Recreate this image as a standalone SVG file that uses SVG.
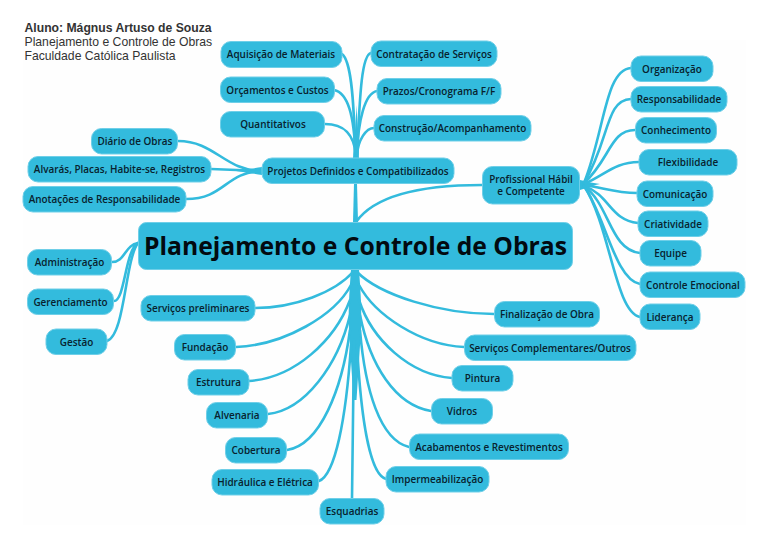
<svg xmlns="http://www.w3.org/2000/svg" width="768" height="543" viewBox="0 0 768 543">
<style>
.n{fill:#33bbdd;stroke:#6fcfe8;stroke-width:1}
.t{font-family:"Open Sans","Noto Sans",sans-serif;font-weight:600;font-size:9.95px;fill:#08222e;text-anchor:middle}
.c{fill:none;stroke:#33bbdd;stroke-width:2.6;stroke-linecap:round}
.h{font-family:"Liberation Sans",Arial,sans-serif;font-size:12.2px;fill:#333}
</style>
<rect width="768" height="543" fill="#fff"/>
<rect x="23" y="40" width="723" height="485" fill="#fefefe"/>
<g id="header">
<text class="h" x="24.500" y="32" font-weight="700">Aluno: Mágnus Artuso de Souza</text>
<text class="h" x="24.500" y="46">Planejamento e Controle de Obras</text>
<text class="h" x="24.500" y="60">Faculdade Católica Paulista</text>
</g>
<g id="connectors">
<path fill="#33bbdd" d="M351,269 L359,269 C360,285 362,305 361,330 L356.500,400 L353.500,400 L349,330 C348,305 350,285 351,269Z"/>
<path fill="#33bbdd" d="M353,222 L358,222 L357,183 L354,183Z"/>
<path fill="#33bbdd" d="M353,158 L359,158 C358,140 357.500,125 356.500,105 C355.500,125 354.500,140 353,158Z"/>
<path fill="#33bbdd" d="M262,167 L262,175 C255,174 245,172 236,171 C245,170 255,168 262,167Z"/>
<path fill="#33bbdd" d="M580,180 L580,190 C588,188 594,185 600,184 C594,183 588,182 580,180Z"/>
<path class="c" d="M342,54 C350,60 354,90 355,155"/>
<path class="c" d="M334,90 C348,93 354,115 355.500,155"/>
<path class="c" d="M325,124 C345,124 354,135 356,155"/>
<path class="c" d="M371,53 C362,55 360,90 357,155"/>
<path class="c" d="M377,91 C365,93 358,120 357,155"/>
<path class="c" d="M374,128 C366,128 358,140 357,155"/>
<path class="c" d="M178,141 C215,141 225,171 262,171"/>
<path class="c" d="M211,169 L262,171"/>
<path class="c" d="M186,199 C225,199 225,172 262,171"/>
<path class="c" d="M482,185 C420,185 375,195 356,222"/>
<path class="c" d="M631,68 C605,70 605,130 584,183"/>
<path class="c" d="M631,99 C605,100 610,140 584,183"/>
<path class="c" d="M635,130 C610,130 610,160 584,183"/>
<path class="c" d="M639,162 C615,162 605,175 584,184"/>
<path class="c" d="M637,193 C615,193 605,188 584,185"/>
<path class="c" d="M638,223 C610,220 610,195 584,186"/>
<path class="c" d="M640,253 C610,250 610,205 584,186"/>
<path class="c" d="M640,284 C615,280 605,215 584,186"/>
<path class="c" d="M640,317 C615,312 610,225 584,186"/>
<path class="c" d="M112,262 C125,262 125,245 138,243"/>
<path class="c" d="M114,301 C125,301 125,250 138,243"/>
<path class="c" d="M107,341 C125,335 125,260 138,243"/>
<path class="c" d="M255,308 C295,308 335,292 353,272"/>
<path class="c" d="M236,347 C285,345 335,315 351,285"/>
<path class="c" d="M249,381 C295,378 335,340 350,300"/>
<path class="c" d="M268,414 C305,410 338,365 350,315"/>
<path class="c" d="M287,450 C320,445 342,390 350,330"/>
<path class="c" d="M319,481 C335,475 346,420 351,345"/>
<path class="c" d="M352,498 L354,340"/>
<path class="c" d="M386,479 C370,475 361,420 357,345"/>
<path class="c" d="M409,447 C380,440 365,390 360,330"/>
<path class="c" d="M431,411 C395,405 370,365 360,315"/>
<path class="c" d="M452,378 C410,375 372,340 359,300"/>
<path class="c" d="M464,347 C420,345 375,315 359,285"/>
<path class="c" d="M494,314 C440,314 380,295 357,272"/>
</g>
<g id="central"><rect class="n" x="138.500" y="222.500" width="434" height="47" rx="8"/><text x="355.500" y="255" font-family="'Open Sans','Noto Sans',sans-serif" font-weight="700" font-size="24.700px" text-anchor="middle" fill="#020a10">Planejamento e Controle de Obras</text></g>
<g id="n1"><rect class="n" x="221" y="41.500" width="121" height="26" rx="10"/><text class="t" x="281" y="58">Aquisição de Materiais</text></g>
<g id="n2"><rect class="n" x="220.500" y="77" width="114" height="25.500" rx="10"/><text class="t" x="277.500" y="93.500">Orçamentos e Custos</text></g>
<g id="n3"><rect class="n" x="220.500" y="111.500" width="104" height="25.500" rx="10"/><text class="t" x="273" y="128">Quantitativos</text></g>
<g id="n4"><rect class="n" x="91.500" y="128.500" width="86" height="25.500" rx="10"/><text class="t" x="135" y="145">Diário de Obras</text></g>
<g id="n5"><rect class="n" x="28" y="156.500" width="183" height="25.500" rx="10"/><text class="t" x="119.500" y="173">Alvarás, Placas, Habite-se, Registros</text></g>
<g id="n6"><rect class="n" x="23" y="186.500" width="163" height="25.500" rx="10"/><text class="t" x="104.500" y="203">Anotações de Responsabilidade</text></g>
<g id="n7"><rect class="n" x="262" y="158" width="192" height="25.500" rx="10"/><text class="t" x="358" y="174.500">Projetos Definidos e Compatibilizados</text></g>
<g id="n8"><rect class="n" x="27.500" y="249.500" width="84" height="25.500" rx="10"/><text class="t" x="69.500" y="266">Administração</text></g>
<g id="n9"><rect class="n" x="27.500" y="289" width="86" height="25.500" rx="10"/><text class="t" x="70.500" y="305.500">Gerenciamento</text></g>
<g id="n10"><rect class="n" x="46" y="329" width="61" height="25.500" rx="10"/><text class="t" x="76.500" y="345.500">Gestão</text></g>
<g id="n11"><rect class="n" x="141" y="295.500" width="114" height="25.500" rx="10"/><text class="t" x="198" y="312">Serviços preliminares</text></g>
<g id="n12"><rect class="n" x="174.500" y="334.500" width="61" height="25.500" rx="10"/><text class="t" x="205" y="351">Fundação</text></g>
<g id="n13"><rect class="n" x="188" y="369.500" width="61" height="25.500" rx="10"/><text class="t" x="218.500" y="386">Estrutura</text></g>
<g id="n14"><rect class="n" x="206.500" y="402.500" width="61" height="25.500" rx="10"/><text class="t" x="237" y="419">Alvenaria</text></g>
<g id="n15"><rect class="n" x="225.500" y="437.500" width="61" height="25.500" rx="10"/><text class="t" x="256" y="454">Cobertura</text></g>
<g id="n16"><rect class="n" x="212" y="469.500" width="106.500" height="25.500" rx="10"/><text class="t" x="265" y="486">Hidráulica e Elétrica</text></g>
<g id="n17"><rect class="n" x="320" y="498.500" width="64" height="25.500" rx="10"/><text class="t" x="352" y="515">Esquadrias</text></g>
<g id="n18"><rect class="n" x="386" y="466.500" width="103" height="25.500" rx="10"/><text class="t" x="437.500" y="483">Impermeabilização</text></g>
<g id="n19"><rect class="n" x="409.500" y="434" width="159" height="25.500" rx="10"/><text class="t" x="489" y="450.500">Acabamentos e Revestimentos</text></g>
<g id="n20"><rect class="n" x="431.500" y="398.500" width="61" height="25.500" rx="10"/><text class="t" x="462" y="415">Vidros</text></g>
<g id="n21"><rect class="n" x="452" y="365.500" width="61" height="25.500" rx="10"/><text class="t" x="482.500" y="382">Pintura</text></g>
<g id="n22"><rect class="n" x="464.500" y="335" width="171.500" height="25.500" rx="10"/><text class="t" x="550" y="351.500">Serviços Complementares/Outros</text></g>
<g id="n23"><rect class="n" x="494.500" y="301.500" width="105" height="25.500" rx="10"/><text class="t" x="547" y="318">Finalização de Obra</text></g>
<g id="n24"><rect class="n" x="371" y="41" width="126" height="25.500" rx="10"/><text class="t" x="434" y="57.500">Contratação de Serviços</text></g>
<g id="n25"><rect class="n" x="377" y="78.500" width="124" height="25.500" rx="10"/><text class="t" x="439" y="95">Prazos/Cronograma F/F</text></g>
<g id="n26"><rect class="n" x="374" y="115.500" width="157" height="25.500" rx="10"/><text class="t" x="452.500" y="132">Construção/Acompanhamento</text></g>
<g id="n27"><rect class="n" x="482.500" y="166.500" width="97" height="37.500" rx="10"/><text class="t" x="531" y="182.500">Profissional Hábil</text><text class="t" x="531" y="195">e Competente</text></g>
<g id="n28"><rect class="n" x="631" y="56" width="82" height="25.500" rx="10"/><text class="t" x="672" y="72.500">Organização</text></g>
<g id="n29"><rect class="n" x="631" y="86.500" width="96" height="25.500" rx="10"/><text class="t" x="679" y="103">Responsabilidade</text></g>
<g id="n30"><rect class="n" x="635.500" y="117.500" width="81" height="25.500" rx="10"/><text class="t" x="676" y="134">Conhecimento</text></g>
<g id="n31"><rect class="n" x="639" y="149.500" width="98" height="25.500" rx="10"/><text class="t" x="688" y="166">Flexibilidade</text></g>
<g id="n32"><rect class="n" x="637" y="181" width="76" height="25.500" rx="10"/><text class="t" x="675" y="197.500">Comunicação</text></g>
<g id="n33"><rect class="n" x="638" y="211" width="70" height="25.500" rx="10"/><text class="t" x="673" y="227.500">Criatividade</text></g>
<g id="n34"><rect class="n" x="640" y="240.500" width="61" height="25.500" rx="10"/><text class="t" x="670.500" y="257">Equipe</text></g>
<g id="n35"><rect class="n" x="640" y="272" width="105" height="25.500" rx="10"/><text class="t" x="693" y="288.500">Controle Emocional</text></g>
<g id="n36"><rect class="n" x="640" y="304" width="60" height="25.500" rx="10"/><text class="t" x="670" y="320.500">Liderança</text></g>
</svg>
